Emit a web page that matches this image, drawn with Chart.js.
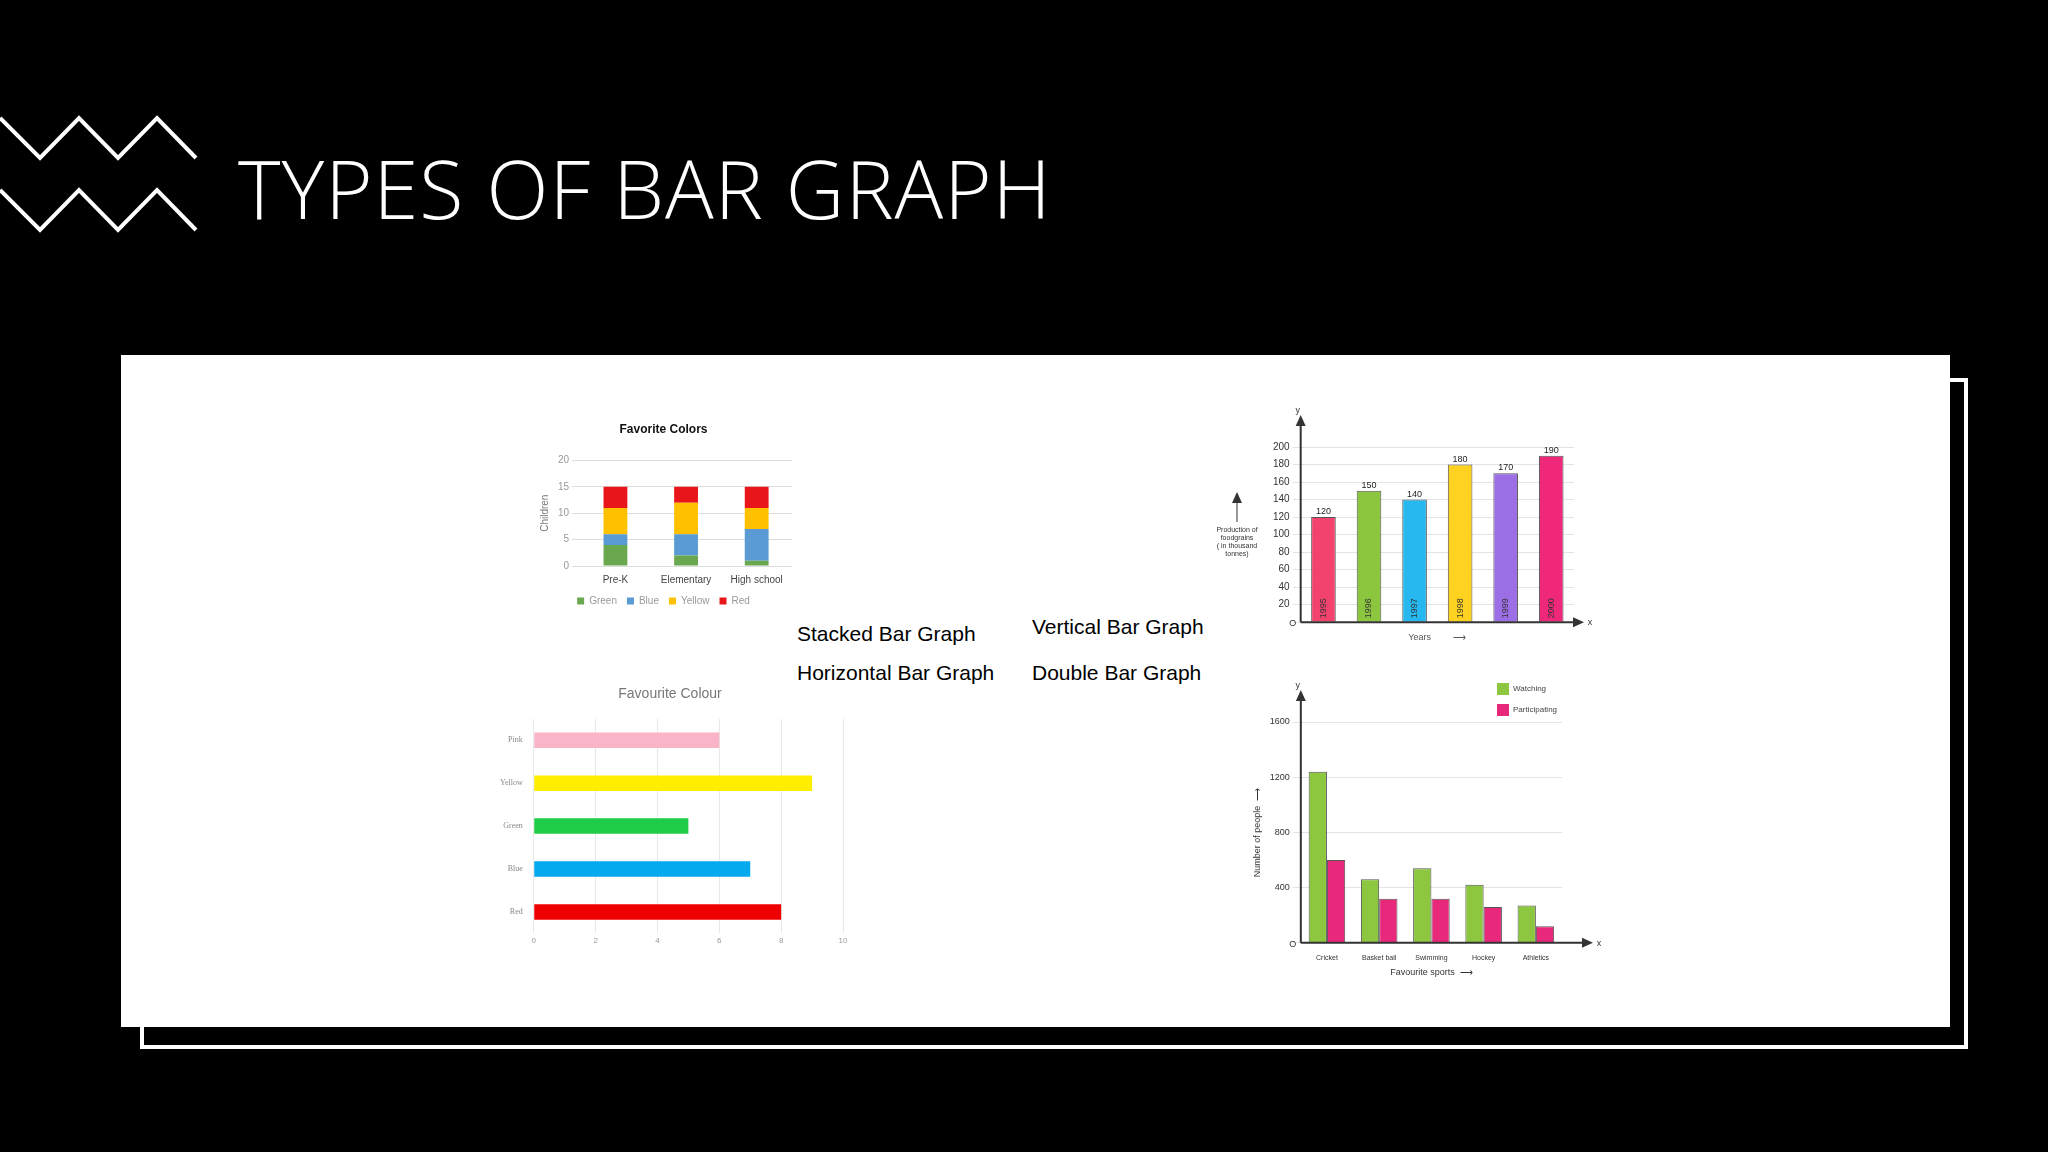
<!DOCTYPE html>
<html>
<head>
<meta charset="utf-8">
<script src="https://cdn.jsdelivr.net/npm/chart.js@4"></script>
<style>
  body { margin:0; width:2048px; height:1152px; background:#000; position:relative; overflow:hidden; font-family:"Open Sans", "Liberation Sans", sans-serif; }
  .abs { position:absolute; }
  #titulo { left:238px; top:132px; color:#fff; font-size:81px; font-weight:300; letter-spacing:1px; font-family:"Open Sans", sans-serif; }
  #panel { left:121px; top:355px; width:1829px; height:672px; background:#fff; }
  #sombra { left:140px; top:378px; width:1820px; height:663px; border:4px solid #fff; }
  .etiqueta { color:#000; font-size:21px; font-family:"Liberation Sans", "Open Sans", sans-serif; }
  .caja { position:absolute; }
</style>
</head>
<body>
<svg class="abs" style="left:0;top:110px" width="200" height="130">
  <polyline points="0,8 40,48 79,8 118,48 157,8 196,48" fill="none" stroke="#fff" stroke-width="4"/>
  <polyline points="0,80 40,120 79,80 118,120 157,80 196,120" fill="none" stroke="#fff" stroke-width="4"/>
</svg>
<div id="titulo" class="abs">TYPES OF BAR GRAPH</div>
<div id="sombra" class="abs"></div>
<div id="panel" class="abs"></div>

<div class="abs etiqueta" style="left:797px;top:622px">Stacked Bar Graph</div>
<div class="abs etiqueta" style="left:797px;top:661px">Horizontal Bar Graph</div>
<div class="abs etiqueta" style="left:1032px;top:615px">Vertical Bar Graph</div>
<div class="abs etiqueta" style="left:1032px;top:661px">Double Bar Graph</div>

<div class="caja" style="left:535px;top:408px;width:265px;height:210px"><canvas id="apilado"></canvas></div>
<div class="caja" style="left:1200px;top:405px;width:400px;height:240px"><canvas id="vertical"></canvas></div>
<div class="caja" style="left:480px;top:680px;width:380px;height:275px"><canvas id="horizontal"></canvas></div>
<div class="caja" style="left:1240px;top:670px;width:370px;height:310px"><canvas id="doble"></canvas></div>

<script>
// datos grafico apilado
const nivelesEscuela = ['Pre-K', 'Elementary', 'High school'];
const ninosVerde = [4, 2, 1];
const ninosAzul = [2, 4, 6];
const ninosAmarillo = [5, 6, 4];
const ninosRojo = [4, 3, 4];

// datos grafico vertical
const anios = ['1995', '1996', '1997', '1998', '1999', '2000'];
const produccion = [120, 150, 140, 180, 170, 190];
const coloresAnios = ['#f2426e', '#8cc63f', '#27b8ef', '#ffd21f', '#9d6fe6', '#f0287a'];

// datos grafico horizontal
const coloresFavoritos = ['Pink', 'Yellow', 'Green', 'Blue', 'Red'];
const votosColores = [6, 9, 5, 7, 8];
const rellenoColores = ['#f9b4c8', '#ffee00', '#1fcc47', '#04a9ee', '#ef0000'];

// datos grafico doble
const deportes = ['Cricket', 'Basket ball', 'Swimming', 'Hockey', 'Athletics'];
const mirando = [1240, 460, 540, 420, 270];
const participando = [600, 320, 320, 260, 120];

function flecha(ctx, x, y, dir) {
  ctx.beginPath();
  if (dir === 'up') { ctx.moveTo(x, y - 8); ctx.lineTo(x - 5, y + 3); ctx.lineTo(x + 5, y + 3); }
  else { ctx.moveTo(x + 8, y); ctx.lineTo(x - 3, y - 5); ctx.lineTo(x - 3, y + 5); }
  ctx.closePath();
  ctx.fill();
}

// ejes con flechas para los graficos de libro
const ejesFlecha = {
  id: 'ejesFlecha',
  afterDraw(chart, args, opts) {
    const ctx = chart.ctx;
    const a = chart.chartArea;
    ctx.save();
    ctx.strokeStyle = '#333';
    ctx.fillStyle = '#333';
    ctx.lineWidth = 2;
    ctx.beginPath();
    ctx.moveTo(a.left, a.bottom);
    ctx.lineTo(a.left, opts.topY);
    ctx.moveTo(a.left, a.bottom);
    ctx.lineTo(opts.rightX, a.bottom);
    ctx.stroke();
    flecha(ctx, a.left, opts.topY, 'up');
    flecha(ctx, opts.rightX, a.bottom, 'right');
    ctx.font = '9px "Liberation Sans"';
    ctx.textAlign = 'center';
    ctx.fillText('y', a.left - 3, opts.topY - 10);
    ctx.fillText('x', opts.rightX + 14, a.bottom + 3);
    ctx.fillText('O', a.left - 8, a.bottom + 4);
    ctx.restore();
  }
};

new Chart(document.getElementById('apilado'), {
  type: 'bar',
  data: {
    labels: nivelesEscuela,
    datasets: [
      { label: 'Green', data: ninosVerde, backgroundColor: '#6aa84f' },
      { label: 'Blue', data: ninosAzul, backgroundColor: '#5b9bd5' },
      { label: 'Yellow', data: ninosAmarillo, backgroundColor: '#ffc000' },
      { label: 'Red', data: ninosRojo, backgroundColor: '#e8161b' }
    ]
  },
  options: {
    responsive: true, maintainAspectRatio: false, animation: false,
    categoryPercentage: 0.75, barPercentage: 0.45,
    layout: { padding: { right: 8, bottom: 2 } },
    plugins: {
      title: { display: true, text: 'Favorite Colors', color: '#111', font: { size: 12, weight: 'bold', family: 'Liberation Sans' }, padding: { top: 14, bottom: 24 } },
      legend: { position: 'bottom', labels: { boxWidth: 7, boxHeight: 7, color: '#999', font: { size: 10 }, padding: 10 } },
      tooltip: { enabled: false }
    },
    scales: {
      x: { stacked: true, grid: { display: false }, border: { display: false }, ticks: { color: '#444', font: { size: 10 }, padding: 0 } },
      y: { stacked: true, min: 0, max: 20, ticks: { stepSize: 5, color: '#999', font: { size: 10 } },
           grid: { color: '#ddd' }, border: { display: false },
           title: { display: true, text: 'Children', color: '#777', font: { size: 10 } } }
    }
  }
});

new Chart(document.getElementById('vertical'), {
  type: 'bar',
  data: {
    labels: anios,
    datasets: [{ data: produccion, backgroundColor: coloresAnios, borderColor: '#555', borderWidth: 1 }]
  },
  options: {
    responsive: true, maintainAspectRatio: false, animation: false,
    categoryPercentage: 0.9, barPercentage: 0.6,
    layout: { padding: { left: 70, top: 42, right: 26, bottom: 0 } },
    plugins: {
      legend: { display: false }, tooltip: { enabled: false },
      ejesFlecha: { topY: 18, rightX: 400 - 24 }
    },
    scales: {
      x: { grid: { display: false }, border: { display: false }, ticks: { display: false },
           title: { display: true, text: 'Years         ⟶', color: '#555', font: { size: 9 }, padding: 2 } },
      y: { min: 0, max: 200, ticks: { stepSize: 20, color: '#333', font: { size: 10 }, callback: v => v === 0 ? '' : v },
           grid: { color: '#e4e4e4' }, border: { display: false } }
    }
  },
  plugins: [ejesFlecha, {
    id: 'textosBarras',
    afterDatasetsDraw(chart) {
      const ctx = chart.ctx;
      const meta = chart.getDatasetMeta(0);
      ctx.save();
      ctx.fillStyle = '#222';
      ctx.font = '9px "Liberation Sans"';
      ctx.textAlign = 'center';
      meta.data.forEach((b, i) => {
        ctx.fillText(produccion[i], b.x, b.y - 3);
        ctx.save();
        ctx.translate(b.x, chart.chartArea.bottom - 14);
        ctx.rotate(-Math.PI / 2);
        ctx.textBaseline = 'middle';
        ctx.fillStyle = '#333';
        ctx.fillText(anios[i], 0, 0);
        ctx.restore();
      });
      // titulo del eje y
      ctx.font = '7px "Liberation Sans"';
      ctx.fillStyle = '#333';
      ['Production of', 'foodgrains', '( in thousand', 'tonnes)'].forEach((t, i) => ctx.fillText(t, 37, 127 + i * 8));
      ctx.fillRect(36.5, 95, 1, 22);
      flecha(ctx, 37, 95, 'up');
      ctx.restore();
    }
  }]
});

new Chart(document.getElementById('horizontal'), {
  type: 'bar',
  data: {
    labels: coloresFavoritos,
    datasets: [{ data: votosColores, backgroundColor: rellenoColores }]
  },
  options: {
    indexAxis: 'y',
    responsive: true, maintainAspectRatio: false, animation: false,
    categoryPercentage: 0.9, barPercentage: 0.4,
    layout: { padding: { left: 17, right: 17, top: 0, bottom: 6 } },
    plugins: {
      legend: { display: false }, tooltip: { enabled: false },
      title: { display: true, text: 'Favourite Colour', color: '#777', font: { size: 14, weight: 'normal' }, padding: { top: 6, bottom: 16 } }
    },
    scales: {
      x: { min: 0, max: 10, ticks: { stepSize: 2, color: '#999', font: { size: 8 } }, grid: { color: '#e8e8e8', drawTicks: false }, border: { display: false } },
      y: { grid: { display: false }, border: { display: false }, ticks: { color: '#888', font: { size: 8, family: 'Liberation Serif' } } }
    }
  }
});

new Chart(document.getElementById('doble'), {
  type: 'bar',
  data: {
    labels: deportes,
    datasets: [
      { label: 'Watching', data: mirando, backgroundColor: '#8dc63f', borderColor: '#555', borderWidth: 1 },
      { label: 'Participating', data: participando, backgroundColor: '#e8287a', borderColor: '#555', borderWidth: 1 }
    ]
  },
  options: {
    responsive: true, maintainAspectRatio: false, animation: false,
    categoryPercentage: 0.7, barPercentage: 1,
    layout: { padding: { left: 8, top: 52, right: 48, bottom: 0 } },
    plugins: {
      legend: { display: false }, tooltip: { enabled: false },
      ejesFlecha: { topY: 28, rightX: 370 - 25 }
    },
    scales: {
      x: { grid: { display: false }, border: { display: false }, ticks: { color: '#333', font: { size: 7 } },
           title: { display: true, text: 'Favourite sports  ⟶', color: '#333', font: { size: 9 }, padding: 2 } },
      y: { min: 0, max: 1600, ticks: { stepSize: 400, color: '#333', font: { size: 9 }, callback: v => v === 0 ? '' : v },
           grid: { color: '#e4e4e4' }, border: { display: false },
           title: { display: true, text: 'Number of people  ⟶', color: '#333', font: { size: 9 } } }
    }
  },
  plugins: [ejesFlecha, {
    id: 'leyendaDoble',
    afterDraw(chart) {
      const ctx = chart.ctx;
      ctx.save();
      ctx.font = '8px "Liberation Sans"';
      ctx.textBaseline = 'middle';
      chart.data.datasets.forEach((d, i) => {
        const y = 19 + i * 21;
        ctx.fillStyle = d.backgroundColor;
        ctx.fillRect(257, y - 6, 12, 12);
        ctx.fillStyle = '#444';
        ctx.fillText(d.label, 273, y);
      });
      ctx.restore();
    }
  }]
});
</script>
</body>
</html>
